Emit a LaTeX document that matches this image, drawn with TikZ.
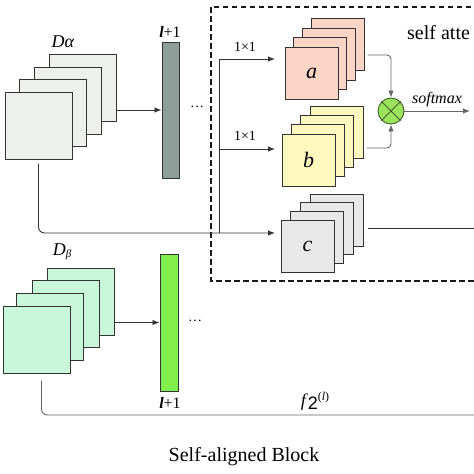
\documentclass[tikz,border=0pt]{standalone}
\usepackage{fontspec}
\setmainfont{Liberation Serif}
\setsansfont{Liberation Sans}
\usetikzlibrary{arrows.meta,calc}
\definecolor{dagray}{HTML}{EEF0EE}
\definecolor{barA}{HTML}{8E9E98}
\definecolor{barB}{HTML}{82F04C}
\definecolor{afill}{HTML}{FAD5C6}
\definecolor{bfill}{HTML}{FDF8BE}
\definecolor{cfill}{HTML}{E8E8E8}
\definecolor{dbfill}{HTML}{C9F7D9}
\definecolor{mulfill}{HTML}{9BE35C}
\definecolor{muldraw}{HTML}{3E5E2A}
\begin{document}
\begin{tikzpicture}[x=1pt,y=-1pt,
  sq/.style={draw=black!80, line width=1pt, inner sep=0pt},
  bigsq/.style={sq, minimum size=67pt},
  smsq/.style={sq, minimum width=53pt, minimum height=52pt},
  barbox/.style={draw=black!80, line width=1pt, inner sep=0pt},
  conn/.style={draw=black!80, line width=0.9pt},
  conngray/.style={draw=black!60, line width=0.9pt},
  arr/.style={conn, -{Latex[length=7pt,width=5.5pt]}},
  arrgray/.style={conngray, -{Latex[length=7pt,width=5.5pt]}},
  lbl/.style={inner sep=0pt},
  dashbox/.style={draw=black!90, line width=1.3pt, dash pattern=on 5.5pt off 3.5pt}
]
\useasboundingbox (0,0) rectangle (474,474);
\clip (0,0) rectangle (474,474);

% dashed self-attention box
\draw[dashbox] (211,7) rectangle (490,281);
\node[lbl, anchor=west, font=\fontsize{20}{20}\selectfont] (satt) at (407,33) {self atte};

% D alpha stack
\node[bigsq, fill=dagray] (da1) at (83,88) {};
\node[bigsq, fill=dagray] (da2) at (68,100.5) {};
\node[bigsq, fill=dagray] (da3) at (53,113) {};
\node[bigsq, fill=dagray] (da4) at (38.5,125.5) {};
\node[lbl, font=\fontsize{18}{18}\selectfont] (dal) at (63,42) {\textit{Dα}};

% dark bar
\node[barbox, fill=barA, minimum width=17pt, minimum height=136pt] (bara) at (170.5,110) {};
\node[lbl, font=\fontsize{16}{16}\selectfont] (barat) at (170,32) {\textbf{\textit{l}}+1};
\node[lbl, font=\fontsize{14}{14}\selectfont] (dotsa) at (197,107) {\dots};
\draw[arr] (da1.east |- bara.west) -- (bara.west);

% inputs to a, b, c
\coordinate (ain) at (275,59);
\coordinate (bin) at (275,149);
\coordinate (cin) at (275,233);
\coordinate (jn) at (219,233);
\draw[arr] (jn) |- (ain);
\draw[arr] (jn |- bin) -- (bin);
\draw[arr, rounded corners=6pt] ([yshift=-4pt]da4.south) |- (cin);
\node[lbl, font=\fontsize{14}{14}\selectfont] (k1) at (245,47) {1×1};
\node[lbl, font=\fontsize{14}{14}\selectfont] (k2) at (245,136) {1×1};

% a stack
\node[smsq, fill=afill] (a4) at (337.5,44.5) {};
\node[smsq, fill=afill] (a3) at (328.8,54) {};
\node[smsq, fill=afill] (a2) at (320.2,63.5) {};
\node[smsq, fill=afill, font=\fontsize{22}{22}\selectfont] (a1) at (311.5,73) {\textit{a}};

% b stack
\node[smsq, fill=bfill] (b4) at (336.5,132) {};
\node[smsq, fill=bfill] (b3) at (327.2,141.3) {};
\node[smsq, fill=bfill] (b2) at (317.8,150.7) {};
\node[smsq, fill=bfill, font=\fontsize{22}{22}\selectfont] (b1) at (308.5,160) {\textit{b}};

% c stack
\node[smsq, fill=cfill] (c4) at (336.5,220) {};
\node[smsq, fill=cfill] (c3) at (326.8,228.7) {};
\node[smsq, fill=cfill] (c2) at (317.2,237.3) {};
\node[smsq, fill=cfill, font=\fontsize{22}{22}\selectfont] (c1) at (307.5,246) {\textit{c}};

% multiplication
\node[circle, draw=muldraw, fill=mulfill, line width=0.9pt, minimum size=26pt, inner sep=0pt] (mul) at (391,111) {};
\draw[muldraw, line width=0.9pt] (mul.north west) -- (mul.south east);
\draw[muldraw, line width=0.9pt] (mul.north east) -- (mul.south west);
\draw[arrgray, rounded corners=4pt] ([xshift=3pt,yshift=-10.5pt]a4.east) -| (mul.north);
\draw[arrgray, rounded corners=4pt] ([xshift=3pt,yshift=-16pt]b4.east) -| (mul.south);
\coordinate (smx) at (470,111);
\draw[arrgray] (mul.east) -- (smx);
\node[lbl, font=\fontsize{16}{16}\selectfont] (smxl) at (437,100) {\textit{softmax}};
\coordinate (cout) at (490,228);
\draw[conn] ([xshift=4pt,yshift=-8pt]c4.east) -- (cout);

% D beta stack
\node[bigsq, fill=dbfill] (db1) at (80.5,301.5) {};
\node[bigsq, fill=dbfill] (db2) at (65.5,313.5) {};
\node[bigsq, fill=dbfill] (db3) at (49.5,326.5) {};
\node[bigsq, fill=dbfill] (db4) at (36.5,339.5) {};
\node[lbl, font=\fontsize{18}{18}\selectfont] (dbl) at (62,252) {\textit{D}\raisebox{-2pt}{\fontsize{11}{11}\selectfont\textit{β}}};

% green bar
\node[barbox, fill=barB, minimum width=18pt, minimum height=137pt] (barb) at (169,322.5) {};
\node[lbl, font=\fontsize{16}{16}\selectfont] (barbt) at (170,403) {\textbf{\textit{l}}+1};
\node[lbl, font=\fontsize{14}{14}\selectfont] (dotsb) at (195,321) {\dots};
\draw[arr] (db1.east |- barb.west) -- (barb.west);

% f2 line
\coordinate (fend) at (490,415);
\draw[conngray, rounded corners=6pt] ([xshift=5pt,yshift=-7pt]db4.south) |- (fend);
\node[lbl, font=\fontsize{18}{18}\selectfont] (fl) at (315,401) {\textit{f}\raisebox{-3pt}{\sffamily 2}\raisebox{6pt}{\fontsize{12}{12}\selectfont(\textit{l})}};

% title
\node[lbl, font=\fontsize{20}{20}\selectfont] (title) at (244,457) {Self-aligned Block};
\end{tikzpicture}
\end{document}
